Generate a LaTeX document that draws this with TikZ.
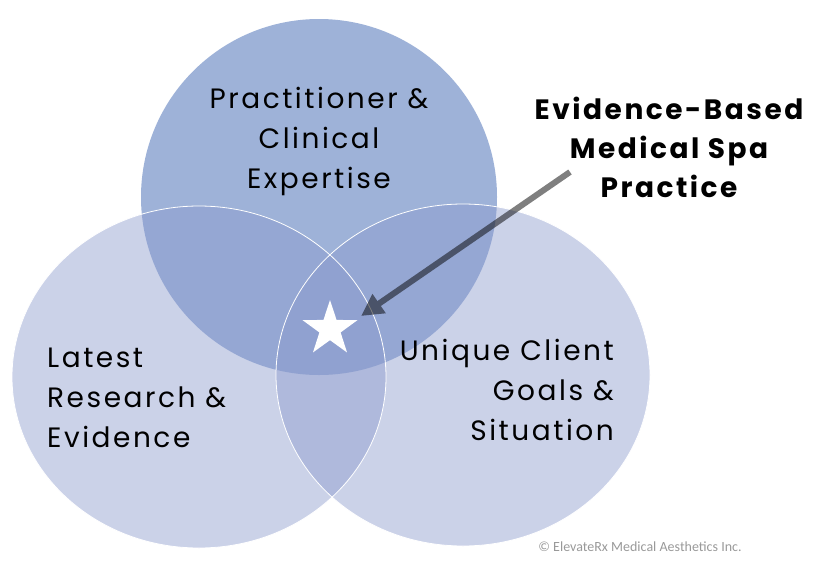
\documentclass[tikz,border=0pt]{standalone}
\usepackage{fontspec}
\setmainfont{Poppins}[LetterSpace=9]
\newfontfamily\notefont{Carlito}
\usetikzlibrary{shapes.geometric,arrows.meta}
\definecolor{topblue}{RGB}{158,178,216}
\definecolor{softblue}{RGB}{140,155,205}
\begin{document}
\begin{tikzpicture}[x=1pt, y=-1pt,
        lbl/.style={font=\fontsize{28}{40}\selectfont, inner sep=0pt},
        ttl/.style={font=\bfseries\fontsize{28}{39}\selectfont, align=center, inner sep=0pt},
        soft/.style={fill=softblue, fill opacity=0.45},
        rim/.style={draw=white, line width=0.8pt},
        ar/.style={-{Triangle[length=22pt,width=22pt]}, line width=6pt, draw=black},
    ]
    \useasboundingbox (0,0) rectangle (816,565);

    % circles
    \fill[topblue] (319,197) circle (178);
    \fill[soft] (199,377) ellipse (187 and 171);
    \fill[soft] (463,375) ellipse (187 and 171);
    \draw[rim] (199,377) ellipse (187 and 171);
    \draw[rim] (463,375) ellipse (187 and 171);

    % labels
    \node[lbl, align=center] (practice) at (319,141) {Practitioner \&\\Clinical\\Expertise};
    \node[lbl, align=left, anchor=west] (research) at (47,398) {Latest\\Research \&\\Evidence};
    \node[lbl, align=right, anchor=east] (client) at (614,390) {Unique Client\\Goals \&\\Situation};
    \node[ttl] (title) at (669,147) {Evidence-Based\\Medical Spa\\Practice};

    \node[star, star points=5, star point ratio=2.6, fill=white, minimum size=58pt, inner sep=0pt] (star) at (330,329) {};

    \coordinate (from) at (570,172);
    \coordinate (to) at (361,316);
    \begin{scope}[transparency group, opacity=0.5]
        \draw[ar] (from) -- (to);
    \end{scope}

    \node[font=\notefont\fontsize{14}{16}\selectfont, text=black!40] (note) at (640,547) {© ElevateRx Medical Aesthetics Inc.};
\end{tikzpicture}
\end{document}
